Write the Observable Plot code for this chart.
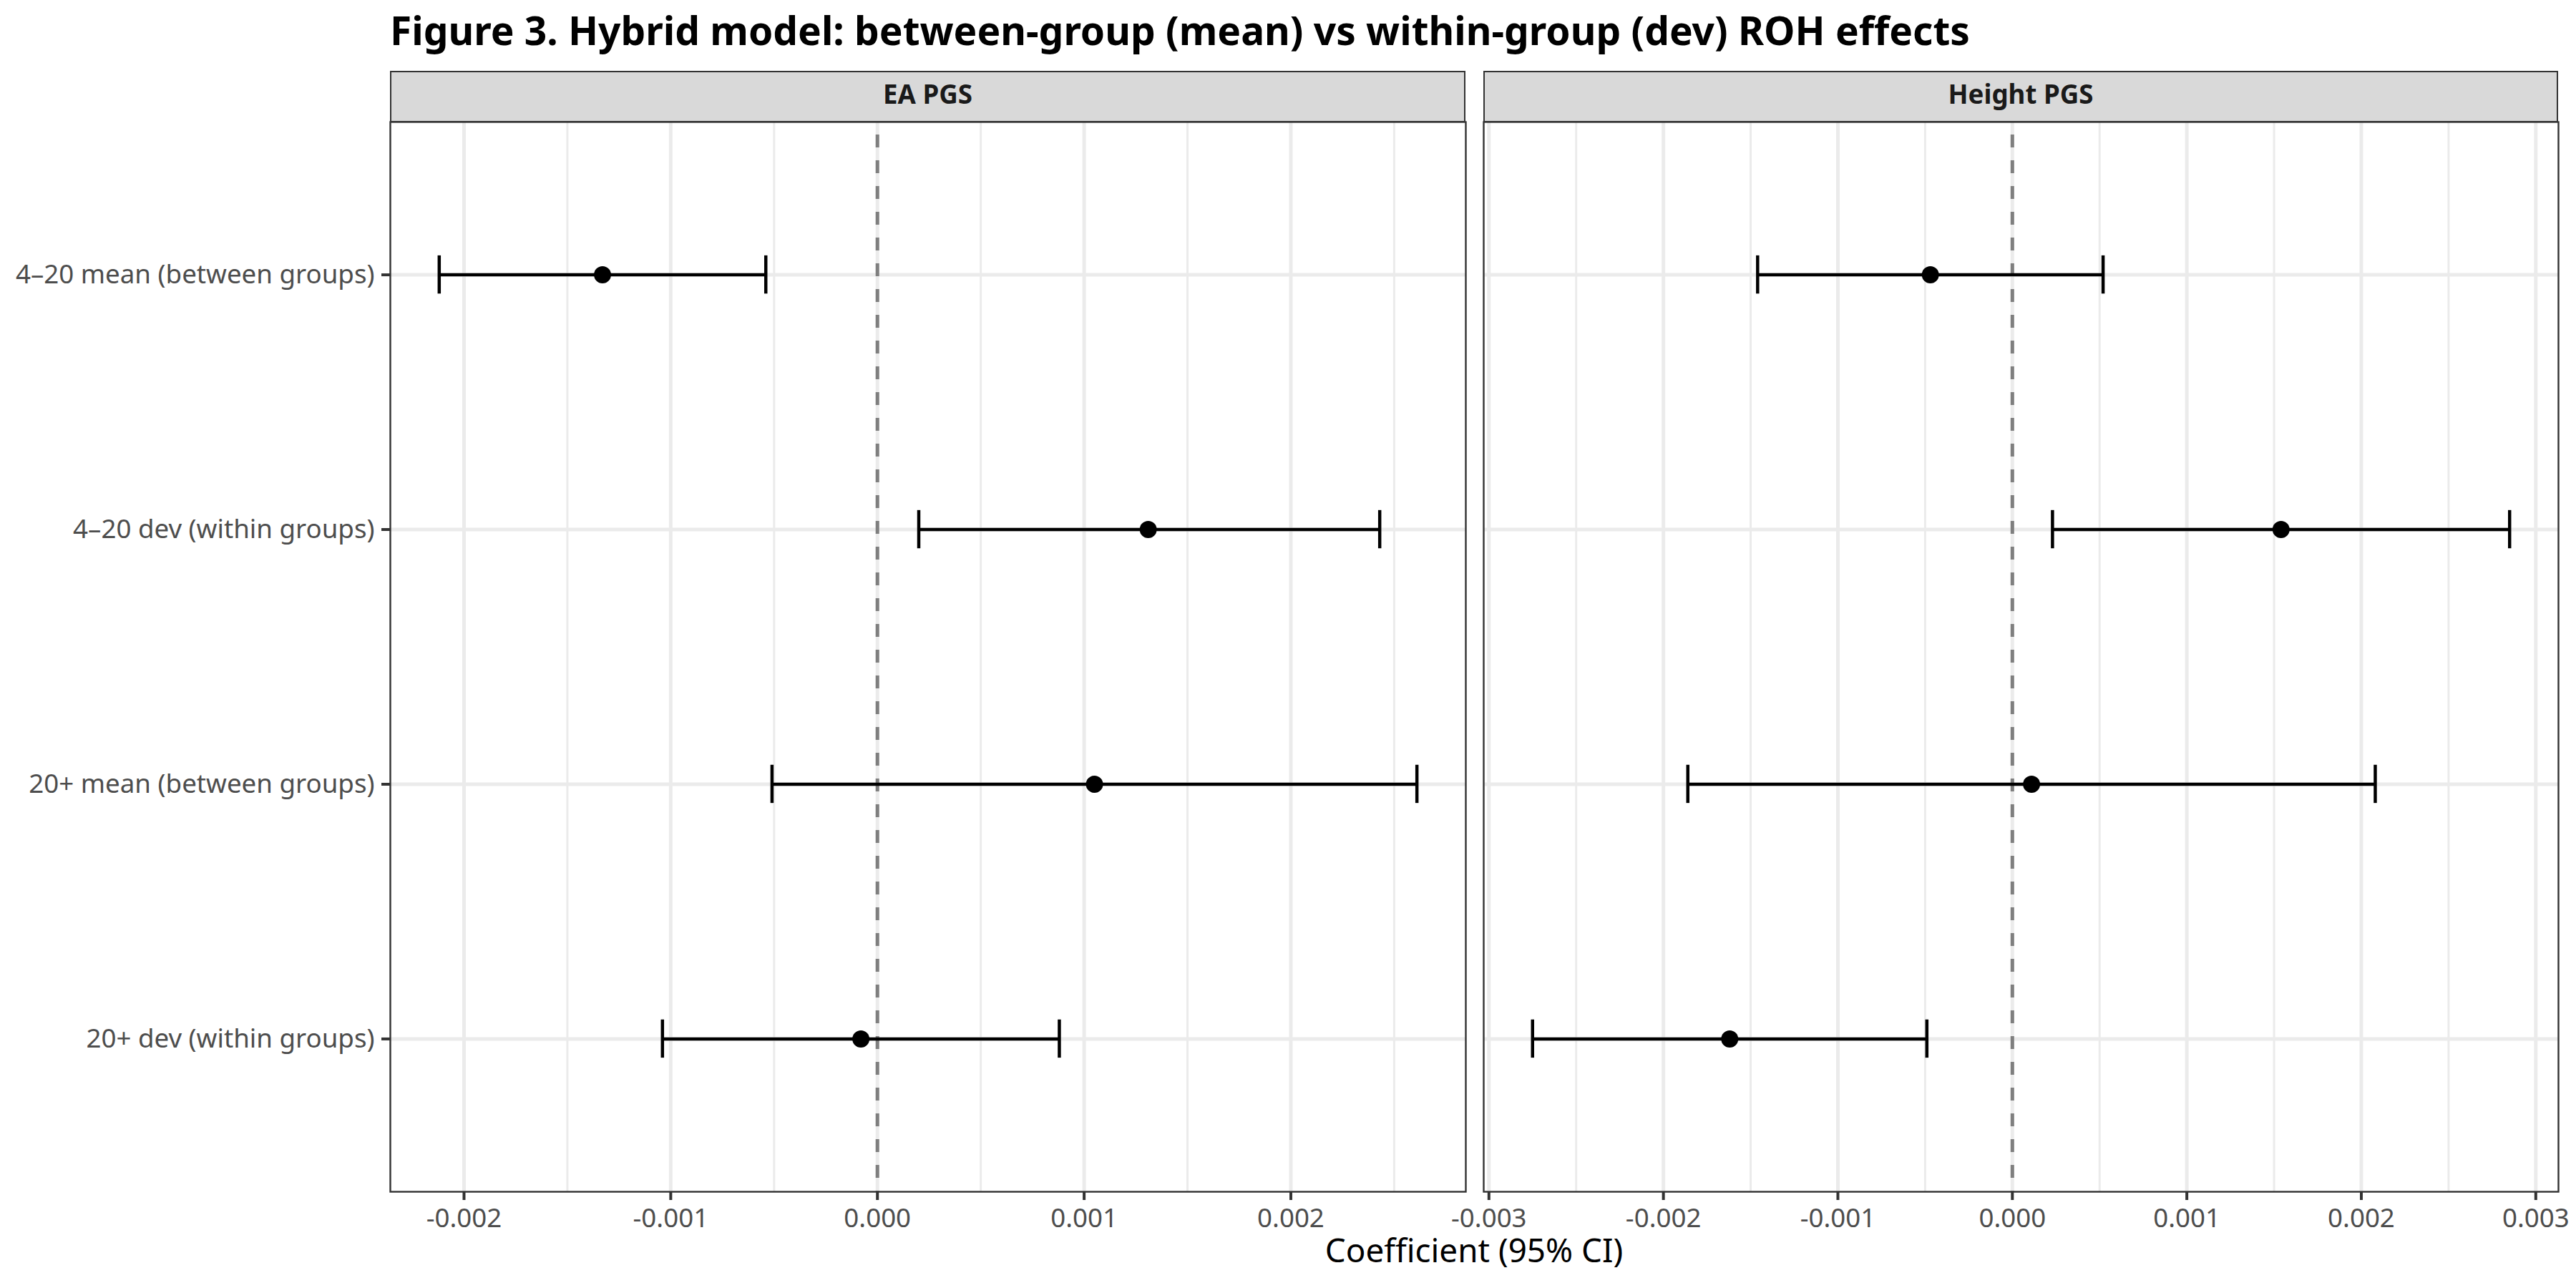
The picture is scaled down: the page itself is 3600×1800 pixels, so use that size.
<!DOCTYPE html>
<html>
<head>
<meta charset="utf-8">
<script src="https://cdn.jsdelivr.net/npm/d3@7"></script>
<script src="https://cdn.jsdelivr.net/npm/@observablehq/plot@0.6"></script>
<style>
  html, body { margin: 0; padding: 0; background: white; }
  #chart { position: relative; width: 3600px; height: 1800px; background: white; font-family: "Noto Sans", sans-serif; overflow: hidden; }
  .title { position: absolute; left: 545px; top: 14px; font-size: 55px; line-height: 55px; font-weight: 700; color: #000; white-space: nowrap; }
  .strip { position: absolute; top: 99px; height: 72px; box-sizing: border-box; border: 2px solid #333333; background: #D9D9D9; }
  .strip span { position: absolute; left: 0; right: 0; top: 12px; text-align: center; font-size: 36.7px; line-height: 36.7px; font-weight: 700; color: #1A1A1A; }
  .xtitle { position: absolute; left: 545px; width: 3030px; top: 1724px; text-align: center; font-size: 45.8px; line-height: 45.8px; color: #000; }
  .panel { position: absolute; top: 170px; }
</style>
</head>
<body>
<div id="chart">
  <div class="title">Figure 3. Hybrid model: between-group (mean) vs within-group (dev) ROH effects</div>
  <div class="strip" style="left:545px; width:1503px;"><span>EA PGS</span></div>
  <div class="strip" style="left:2073px; width:1502px;"><span>Height PGS</span></div>
  <div class="panel" id="p1" style="left:0px;"></div>
  <div class="panel" id="p2" style="left:1993px;"></div>
  <div class="xtitle">Coefficient (95% CI)</div>
</div>
<script>
// Model terms, top to bottom
const terms = [
  "4–20 mean (between groups)",
  "4–20 dev (within groups)",
  "20+ mean (between groups)",
  "20+ dev (within groups)"
];

// EA PGS: estimates and 95% CI bounds
const eaEst = [-0.00133, 0.00131, 0.00105, -0.00008];
const eaLo  = [-0.00212, 0.00020, -0.00051, -0.00104];
const eaHi  = [-0.00054, 0.00243, 0.00261, 0.00088];

// Height PGS: estimates and 95% CI bounds
const htEst = [-0.00047, 0.00154, 0.00011, -0.00162];
const htLo  = [-0.00146, 0.00023, -0.00186, -0.00275];
const htHi  = [0.00052, 0.00285, 0.00208, -0.00049];

// Axis tick values for each panel
const eaTicks = [-0.002, -0.001, 0, 0.001, 0.002];
const htTicks = [-0.003, -0.002, -0.001, 0, 0.001, 0.002, 0.003];

function rows(est, lo, hi) {
  return terms.map((term, i) => ({term, i, est: est[i], lo: lo[i], hi: hi[i]}));
}

// free x scale per panel, padded by 5% of the data range
function paddedDomain(lo, hi) {
  const a = d3.min(lo), b = d3.max(hi);
  const pad = (b - a) * 0.05;
  return [a - pad, b + pad];
}

function halfSteps(major, domain) {
  const step = major[1] - major[0];
  const out = [];
  for (let k = -1; k <= major.length; k++) {
    const v = major[0] + (k + 0.5) * step;
    if (v >= domain[0] && v <= domain[1]) out.push(v);
  }
  return out;
}

const GRID = "#EBEBEB";
const CAP = 0.075;

function panel({data, lo, hi, ticks, showY, width, marginLeft}) {
  const domain = paddedDomain(lo, hi);
  const marks = [
    Plot.gridX(halfSteps(ticks, domain), {stroke: GRID, strokeOpacity: 1, strokeWidth: 3}),
    Plot.gridX(ticks, {stroke: GRID, strokeOpacity: 1, strokeWidth: 5}),
    Plot.gridY(terms.map((t, i) => i), {stroke: GRID, strokeOpacity: 1, strokeWidth: 5}),
    Plot.ruleX([0], {stroke: "#7F7F7F", strokeWidth: 5, strokeDasharray: "18,18", strokeDashoffset: 18}),
    Plot.ruleY(data, {y: "i", x1: "lo", x2: "hi", stroke: "black", strokeWidth: 4.5}),
    Plot.ruleX(data, {x: "lo", y1: d => d.i - CAP, y2: d => d.i + CAP, stroke: "black", strokeWidth: 4.5}),
    Plot.ruleX(data, {x: "hi", y1: d => d.i - CAP, y2: d => d.i + CAP, stroke: "black", strokeWidth: 4.5}),
    Plot.dot(data, {x: "est", y: "i", r: 12, fill: "black"}),
    Plot.axisX({ticks, tickFormat: v => v.toFixed(3), tickSize: 12, tickPadding: 11,
      stroke: "#333333", strokeWidth: 4, fill: "#4D4D4D", label: null}),
    Plot.frame({stroke: "#333333", strokeWidth: 2.4})
  ];
  if (showY) {
    marks.push(Plot.axisY({ticks: terms.map((t, i) => i), tickFormat: i => terms[i],
      tickSize: 12, tickPadding: 10, stroke: "#333333", strokeWidth: 4, fill: "#4D4D4D", label: null}));
  }
  return Plot.plot({
    width,
    height: 1555,
    marginLeft,
    marginRight: 2,
    marginTop: 0,
    marginBottom: 60,
    x: {domain},
    y: {domain: [terms.length - 0.4, -0.6], axis: showY ? undefined : null},
    style: {fontFamily: "Noto Sans", fontSize: "36.7px", color: "#4D4D4D", background: "transparent", overflow: "visible"},
    marks
  });
}

document.getElementById("p1").append(panel({
  data: rows(eaEst, eaLo, eaHi), lo: eaLo, hi: eaHi, ticks: eaTicks,
  showY: true, width: 2050, marginLeft: 545
}));
document.getElementById("p2").append(panel({
  data: rows(htEst, htLo, htHi), lo: htLo, hi: htHi, ticks: htTicks,
  showY: false, width: 1584, marginLeft: 80
}));
</script>
</body>
</html>
